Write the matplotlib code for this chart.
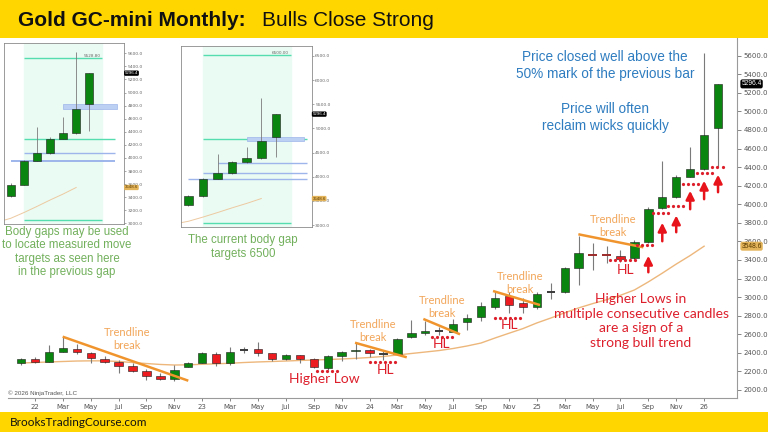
import numpy as np
import matplotlib.pyplot as plt
from matplotlib import font_manager
from matplotlib.patches import Rectangle
import matplotlib.transforms as mtransforms

W, H = 768, 432

# monthly bars, Dec 2021 .. Feb 2026
months = ['2021-12'] + ['%d-%02d' % (y, m) for y in (2022, 2023, 2024, 2025) for m in range(1, 13)] + ['2026-01', '2026-02']
opens = [2288, 2337, 2302, 2412, 2445, 2398, 2334, 2305, 2262, 2205, 2151, 2115, 2251,
         2294, 2388, 2288, 2425, 2438, 2395, 2337, 2373, 2337, 2240, 2366, 2417,
         2431, 2389, 2391, 2567, 2611, 2633, 2628, 2736, 2783, 2897, 3007, 2937,
         2894, 3055, 3059, 3311, 3459, 3451, 3443, 3418, 3591, 3957, 4075, 4297,
         4380, 4818]
highs = [2345, 2359, 2485, 2574, 2495, 2409, 2366, 2323, 2294, 2226, 2180, 2269, 2305,
         2409, 2409, 2460, 2466, 2514, 2402, 2388, 2380, 2345, 2373, 2417, 2509,
         2442, 2431, 2560, 2757, 2746, 2675, 2765, 2815, 2945, 3052, 3055, 2991,
         3055, 3149, 3328, 3659, 3580, 3551, 3508, 3615, 3974, 4470, 4316, 4620,
         5626, 5300]
lows = [2272, 2288, 2298, 2406, 2384, 2288, 2288, 2180, 2197, 2108, 2108, 2100, 2244,
        2288, 2258, 2269, 2395, 2366, 2312, 2323, 2288, 2237, 2215, 2312, 2337,
        2352, 2323, 2384, 2560, 2596, 2592, 2620, 2646, 2743, 2869, 2829, 2829,
        2872, 2980, 3041, 3131, 3292, 3371, 3379, 3400, 3586, 3946, 4064, 4290,
        4369, 4405]
closes = [2337, 2302, 2406, 2456, 2412, 2348, 2305, 2258, 2205, 2154, 2118, 2219, 2294,
          2395, 2288, 2412, 2431, 2395, 2337, 2377, 2337, 2244, 2366, 2409, 2431,
          2402, 2393, 2549, 2614, 2639, 2637, 2711, 2772, 2905, 2988, 2915, 2894,
          3034, 3059, 3311, 3479, 3454, 3446, 3411, 3591, 3946, 4075, 4297, 4380,
          4746, 5296.4]
# moving average (ends one bar before the last)
ma = [2291, 2296, 2302, 2307, 2312, 2314, 2314, 2307, 2296, 2285, 2275, 2269, 2271,
      2277, 2282, 2288, 2296, 2302, 2307, 2312, 2318, 2323, 2328, 2334, 2341,
      2350, 2361, 2377, 2393, 2409, 2425, 2447, 2474, 2506, 2560, 2611, 2661,
      2722, 2775, 2831, 2884, 2930, 2972, 3020, 3077, 3164, 3258, 3356, 3448, 3548.6]
x_labels = []
for yr in ['22', '23', '24', '25']:
    x_labels += [yr, 'Mar', 'May', 'Jul', 'Sep', 'Nov']
x_labels += ['26']

# annotations
trend_lines = [((2.99, 2574), (12.0, 2100)), ((23.96, 2509), (27.67, 2352)),
               ((28.86, 2765), (31.49, 2600)), ((33.86, 3066), (37.23, 2915)),
               ((39.98, 3677), (44.64, 3537))]
hl_dots = [(21.2, 22.9, 2208), (25.0, 27.1, 2305), (29.5, 31.0, 2568), (34.0, 35.9, 2775),
           (42.25, 44.4, 3400), (44.2, 45.5, 3561), (45.3, 46.6, 3903), (46.4, 47.6, 3985),
           (47.5, 48.6, 4218), (48.5, 49.6, 4340), (49.6, 50.65, 4405)]
arrows = [(45, 3238, 3475), (46, 3572, 3831), (47, 3669, 3909),
          (48, 3917, 4175), (49, 4025, 4283), (50, 4100, 4348)]

YELLOW = '#FFD600'
GREEN = '#0A850F'
RED = '#EC1B1F'
ORANGE_T = '#F2A65A'
ORANGE_L = '#F0952E'
RED_T = '#DD1F2C'
BLUE_T = '#2F7DC0'
GREEN_T = '#72B05C'
TEAL = '#55DDB0'
BLUE_L = '#9DB5EA'

names = {f.name for f in font_manager.fontManager.ttflist}
narrow = 'Liberation Sans Narrow' if 'Liberation Sans Narrow' in names else 'Liberation Sans'
sans = 'Liberation Sans'
calib = 'Lato'


def fx(x):
    return x / W


def fy(y):
    return 1 - y / H


def draw_candles(ax, xs, o, h, l, c, width=0.6, lw=0.8):
    for x, oo, hh, ll, cc in zip(xs, o, h, l, c):
        ax.vlines(x, ll, hh, color='#7a7a7a', lw=lw, zorder=2)
        if abs(cc - oo) < 10:
            col = '#9b2a2a' if cc < oo else '#3a3a3a'
            ax.hlines((oo + cc) / 2, x - width / 2, x + width / 2, color=col, lw=1.4, zorder=3)
        else:
            col = GREEN if cc > oo else RED
            ax.add_patch(Rectangle((x - width / 2, min(oo, cc)), width, abs(cc - oo),
                                   fc=col, ec='#1a1a1a', lw=0.4, zorder=3))


def price_tag(ax, y, txt, fc, tc, fs):
    tr = mtransforms.blended_transform_factory(ax.transAxes, ax.transData)
    ax.text(1.006, y, txt, transform=tr, fontsize=fs, color=tc, va='center', ha='left',
            family=sans, zorder=6,
            bbox=dict(boxstyle='round,pad=0.15,rounding_size=0.3', fc=fc, ec='none'))


fig = plt.figure(figsize=(W / 100, H / 100), dpi=100)
fig.patch.set_facecolor('white')

# bands
fig.add_artist(Rectangle((0, fy(38)), 1, 38 / H, transform=fig.transFigure, fc=YELLOW, ec='none'))
fig.add_artist(Rectangle((0, 0), 1, 20 / H, transform=fig.transFigure, fc=YELLOW, ec='none'))
fig.text(fx(18), fy(20), 'Gold GC-mini Monthly:', fontsize=15, fontweight='bold',
         family=narrow, va='center', color='#111')
fig.text(fx(262), fy(20), 'Bulls Close Strong', fontsize=15, family=narrow,
         va='center', color='#111')
fig.text(fx(10), fy(423), 'BrooksTradingCourse.com', fontsize=8.5, family=calib,
         va='center', color='#111')

# main chart
ax = fig.add_axes([fx(8), fy(398), (737 - 8) / W, (398 - 38) / H])
ax.set_xlim(-0.933, 51.36)
ax.set_ylim(1913.8, 5790.7)
idx = np.arange(len(opens))
draw_candles(ax, idx, opens, highs, lows, closes)
ax.plot(np.arange(len(ma)), ma, color='#EDB77C', lw=1.0, zorder=1)

for s in ['left', 'top']:
    ax.spines[s].set_visible(False)
for s in ['right', 'bottom']:
    ax.spines[s].set_color('#9a9a9a')
    ax.spines[s].set_linewidth(0.8)
ax.yaxis.tick_right()
ax.set_yticks(np.arange(2000, 5601, 200))
ax.set_yticklabels(['%.1f' % v for v in np.arange(2000, 5601, 200)])
ax.set_xticks(np.arange(1, 50, 2))
ax.set_xticklabels(x_labels)
ax.tick_params(axis='y', labelsize=5, colors='#555', length=3, width=0.5, pad=1.5)
ax.tick_params(axis='x', labelsize=5, colors='#555', length=2, width=0.5, pad=2)
price_tag(ax, 5296.4, '5296.4', 'black', 'white', 4.8)
price_tag(ax, 3548.6, '3548.6', '#E3B45A', '#5a3a00', 4.8)

for (x0, y0), (x1, y1) in trend_lines:
    ax.plot([x0, x1], [y0, y1], color=ORANGE_L, lw=1.8, zorder=4, solid_capstyle='butt')
for x0, x1, y in hl_dots:
    xs = np.arange(x0, x1 + 0.01, 0.36)
    ax.plot(xs, [y] * len(xs), ls='none', marker='o', ms=1.3, color=RED_T, zorder=4)
for x, y0, y1 in arrows:
    ax.annotate('', xy=(x, y1), xytext=(x, y0),
                arrowprops=dict(arrowstyle='-|>,head_width=0.25,head_length=0.5',
                                color='#E8141C', lw=1.8), zorder=5)

fig.text(fx(8), fy(393), '\u00a9 2026 NinjaTrader, LLC', fontsize=4.5, color='#555',
         va='center', family=sans)

# annotation texts
for cx, cy in [(127, 339), (373, 331), (442, 307), (520, 283), (613, 226)]:
    fig.text(fx(cx), fy(cy), 'Trendline\nbreak', fontsize=8, family=calib, color=ORANGE_T,
             ha='center', va='center', linespacing=1.25)
fig.text(fx(324), fy(379), 'Higher Low', fontsize=10, family=calib, color=RED_T,
         ha='center', va='center')
for cx, cy in [(385, 370.5), (441.7, 344.3), (509, 325), (626, 270)]:
    fig.text(fx(cx), fy(cy), 'HL', fontsize=10, family=calib, color=RED_T,
             ha='center', va='center')
fig.text(fx(641), fy(321), 'Higher Lows in\nmultiple consecutive candles\nare a sign of a\nstrong bull trend',
         fontsize=10, family=calib, color=RED_T, ha='center', va='center', linespacing=1.25)
fig.text(fx(605), fy(65.5), 'Price closed well above the\n50% mark of the previous bar',
         fontsize=9.8, family=sans, color=BLUE_T, ha='center', va='center', linespacing=1.3)
fig.text(fx(605), fy(117.5), 'Price will often\nreclaim wicks quickly',
         fontsize=9.8, family=sans, color=BLUE_T, ha='center', va='center', linespacing=1.3)
fig.text(fx(67), fy(252), 'Body gaps may be used\nto locate measured move\ntargets as seen here\nin the previous gap',
         fontsize=8.3, family=sans, color=GREEN_T, ha='center', va='center', linespacing=1.15)
fig.text(fx(243), fy(247), 'The current body gap\ntargets 6500',
         fontsize=8.3, family=sans, color=GREEN_T, ha='center', va='center', linespacing=1.15)


# insets (last 7 bars)
def inset(rect, xlim, ylim, ticks, levels, gap_x0, top_label, ma_k0):
    a = fig.add_axes(rect)
    a.set_facecolor('white')
    a.set_xlim(*xlim)
    a.set_ylim(*ylim)
    n = 7
    k = np.arange(n)
    a.axvspan(1, 7, color='#EAFBF3', zorder=0)
    for y, x0, x1, col, lw in levels:
        a.hlines(y, x0, x1, color=col, lw=lw, zorder=1)
    a.add_patch(Rectangle((gap_x0, closes[-2]), xlim[1] - 0.55 - gap_x0, opens[-1] - closes[-2],
                          fc='#BBD0F2', ec='#9DB5EA', lw=0.5, zorder=1))
    a.text(6.9, top_label[0], top_label[1], fontsize=3, color='#666', ha='right', va='bottom')
    a.plot(np.arange(ma_k0, 6), ma[-(6 - ma_k0):], color='#EDC9A0', lw=0.7, zorder=1)
    draw_candles(a, k, opens[-n:], highs[-n:], lows[-n:], closes[-n:], width=0.6, lw=0.6)
    a.yaxis.tick_right()
    a.set_yticks(ticks)
    a.set_yticklabels(['%.1f' % v for v in ticks])
    a.set_xticks([])
    a.tick_params(axis='y', labelsize=3.2, colors='#666', length=1.5, width=0.4, pad=1)
    for s in a.spines.values():
        s.set_color('#8a8a8a')
        s.set_linewidth(0.6)
    price_tag(a, 5296.4, '5296.4', 'black', 'white', 3.2)
    price_tag(a, 3548.6, '3548.6', '#E3B45A', '#5a3a00', 3.2)
    return a


inset([fx(4), fy(224), 120 / W, (224 - 43.3) / H], (-0.51, 8.65), (2990, 5753),
      np.arange(3000, 5601, 200),
      [(5529, 1, 7, TEAL, 1.0), (4290, 1, 7.96, TEAL, 1.0), (3051, 1, 7, TEAL, 1.0),
       (4071, 1, 7.96, BLUE_L, 1.0), (3953, 0, 7.96, BLUE_L, 1.4)],
      4, (5529, '5528.80'), -1)
inset([fx(180.7), fy(227.3), 131 / W, (227.3 - 46) / H], (-0.52, 8.45), (2953, 6707),
      np.arange(3000, 6501, 500),
      [(6516, 1, 7, TEAL, 1.0), (4782, 1, 8.1, TEAL, 1.0), (3048, 1, 7, TEAL, 1.0),
       (4290, 2, 8.1, BLUE_L, 1.0), (4071, 1, 8.1, BLUE_L, 1.0), (3953, 0, 8.1, BLUE_L, 1.0)],
      4, (6516, '6500.00'), -1)

fig.savefig('out.png', dpi=100)
